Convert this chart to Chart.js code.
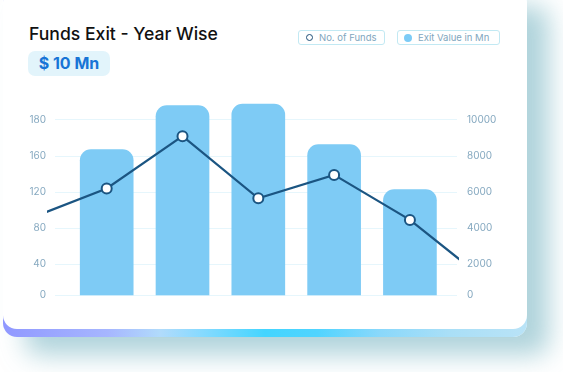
<!DOCTYPE html>
<html>
<head>
<meta charset="utf-8">
<script src="https://cdn.jsdelivr.net/npm/chart.js@4"></script>
<style>
  html, body { margin: 0; padding: 0; background: #fff; }
  body { width: 563px; height: 372px; position: relative; overflow: hidden; font-family: Inter, "Open Sans", sans-serif; }
  .strip {
    position: absolute; left: 3px; top: -12px; width: 524px; height: 349px; border-radius: 14px;
    background: linear-gradient(90deg, #9098ff 0%, #a6b6ff 20%, #b1dbfb 30%, #86daff 38%, #44d5ff 50%, #50d4ff 60%, #8ad8fb 72%, #a9dff7 85%, #b9e3f7 100%);
    box-shadow: 22px 18px 26px rgba(110, 175, 190, 0.55);
  }
  .card { position: absolute; left: 3px; top: -12px; width: 524px; height: 341px; border-radius: 14px; background: #fff; }
  .title { position: absolute; left: 29px; top: 24px; font-size: 17.6px; line-height: 20px; font-weight: 500; color: #111; }
  .badge {
    position: absolute; left: 28px; top: 51px; width: 82px; height: 25px; border-radius: 7px;
    background: #e2f4fb; color: #1874d6; font-weight: 700; font-size: 16px; line-height: 25px; text-align: center;
  }
  .leg {
    position: absolute; top: 30px; height: 13px; border: 1px solid #c2e9f3; border-radius: 3px;
    font-size: 9.5px; line-height: 13px; color: #7fa6be; box-sizing: content-box;
  }
  .leg span.dot { position: absolute; top: 3px; width: 7px; height: 7px; border-radius: 50%; box-sizing: border-box; }
  .leg span.txt { position: absolute; top: 0; white-space: nowrap; }
  /* Chart.js keeps 16px above and below the plot area here */
  #wrap { position: absolute; left: 0; top: 84px; width: 527px; height: 227px; }
</style>
</head>
<body>
<div class="strip"></div>
<div class="card"></div>
<div class="title">Funds Exit - Year Wise</div>
<div class="badge">$ 10 Mn</div>
<div class="leg" style="left:298px; width:85px;">
  <span class="dot" style="left:7px; border:1.5px solid #1f4f78;"></span>
  <span class="txt" style="left:20px;">No. of Funds</span>
</div>
<div class="leg" style="left:397px; width:101px;">
  <span class="dot" style="left:6px; width:8px; height:8px; background:#7ccbf6;"></span>
  <span class="txt" style="left:20px;">Exit Value in Mn</span>
</div>
<div id="wrap"><canvas id="myChart"></canvas></div>

<script>
// data
const years = ["2018", "2019", "2020", "2021", "2022"]
const exitValue = [8350, 10800, 10880, 8630, 6130]        // bars, right axis
// line runs past the first and last bar, so it has one extra point at each end
const fundsX = [-1, 0, 1, 2, 3, 4, 5]
const noOfFunds = [91, 124, 171, 113, 139, 89, 19]         // line, left axis
const leftTicks = [0, 40, 80, 120, 160, 180]
const rightTicks = [0, 2000, 4000, 6000, 8000, 10000]

// the axes in the picture put their ticks at (almost) even steps
// whatever the value, so a small piecewise linear scale is needed
class StepScale extends Chart.LinearScale {
    static id = "step"
    buildTicks() {
        return this.options.stops.map(v => ({ value: v }))
    }
    toUnits(v) {
        const s = this.options.stops, u = this.options.units
        let i = 1
        while (i < s.length - 1 && v > s[i]) i++
        return u[i - 1] + (v - s[i - 1]) / (s[i] - s[i - 1]) * (u[i] - u[i - 1])
    }
    getPixelForValue(v) {
        return this.getPixelForDecimal(this.toUnits(v) / this.options.span)
    }
    getValueForPixel(p) {
        const d = this.getDecimalForPixel(p) * this.options.span
        const s = this.options.stops, u = this.options.units
        let i = 1
        while (i < u.length - 1 && d > u[i]) i++
        return s[i - 1] + (d - u[i - 1]) / (u[i] - u[i - 1]) * (s[i] - s[i - 1])
    }
}
Chart.register(StepScale)

const tickFont = { family: "Inter", size: 10 }
const tickColor = "#86a9c0"
const gridUnits = [0, 31, 67, 103, 139, 175]

const ctx = document.getElementById("myChart")
new Chart(ctx, {
    type: "bar",
    data: {
        labels: years,
        datasets: [{
            type: "line",
            label: "No. of Funds",
            data: fundsX.map((x, i) => ({ x: x, y: noOfFunds[i] })),
            yAxisID: "yL",
            borderColor: "#1b5582",
            borderWidth: 2.2,
            tension: 0,
            pointBackgroundColor: "#fff",
            pointBorderColor: "#1b5582",
            pointBorderWidth: 2,
            pointRadius: c => (c.dataIndex == 0 || c.dataIndex == fundsX.length - 1) ? 0 : 5,
            clip: { left: 8, right: 2, top: 20, bottom: 20 },
            order: 0
        }, {
            type: "bar",
            label: "Exit Value in Mn",
            data: years.map((y, i) => ({ x: i, y: exitValue[i] })),
            yAxisID: "yR",
            backgroundColor: "#7ecbf5",
            barThickness: 53,
            borderRadius: { topLeft: 11, topRight: 11 },
            borderSkipped: "bottom",
            clip: false,
            order: 1
        }]
    },
    options: {
        responsive: true,
        maintainAspectRatio: false,
        animation: false,
        layout: { autoPadding: false, padding: 0 },
        plugins: { legend: { display: false }, tooltip: { enabled: false } },
        scales: {
            x: { type: "linear", min: -0.682, max: 4.621, offset: false, display: false },
            yL: {
                type: "step", position: "left", min: 0, max: 180,
                stops: leftTicks, units: gridUnits, span: 195,
                border: { display: false },
                grid: { color: "#e6f6fc", lineWidth: 1, drawTicks: false },
                ticks: { color: tickColor, font: tickFont, padding: 9, callback: v => String(v) },
                afterFit: s => { s.width = 55 }
            },
            yR: {
                type: "step", position: "right", min: 0, max: 10000,
                stops: rightTicks, units: gridUnits, span: 195,
                border: { display: false },
                grid: { display: false, drawTicks: false },
                ticks: { color: tickColor, font: tickFont, padding: 10, callback: v => String(v) },
                afterFit: s => { s.width = 70 }
            }
        }
    }
})
</script>
</body>
</html>
